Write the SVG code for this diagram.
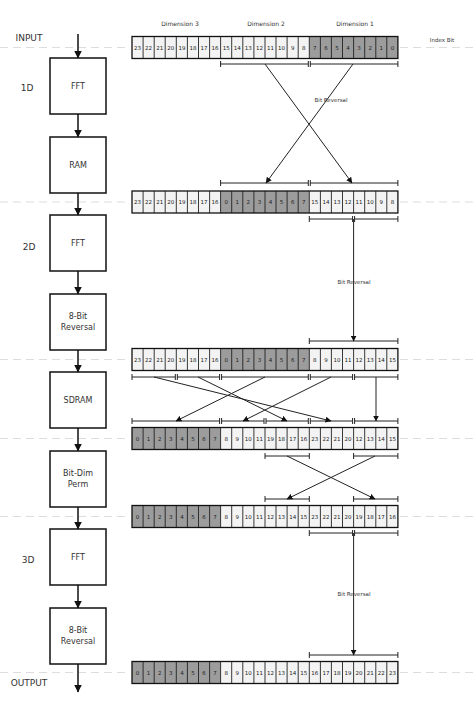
<svg xmlns="http://www.w3.org/2000/svg" width="474" height="711" viewBox="0 0 474 711">
<style>
.bg{fill:#fff}
.guide{stroke:#ddd;stroke-width:1;stroke-dasharray:8 5;fill:none}
.box{fill:#fff;stroke:#111;stroke-width:1.5}
.bl{font-family:"DejaVu Sans",sans-serif;font-size:8px;fill:#333;text-anchor:middle}
.side{font-family:"DejaVu Sans",sans-serif;font-size:9px;fill:#333;text-anchor:middle}
.dim{font-family:"DejaVu Sans",sans-serif;font-size:6px;fill:#333;text-anchor:middle}
.br{font-family:"DejaVu Sans",sans-serif;font-size:5.5px;fill:#333;text-anchor:middle}
.c{font-family:"DejaVu Sans",sans-serif;font-size:5.5px;fill:#222;text-anchor:middle}
.w{fill:#f3f3f3}
.g{fill:#9c9c9c}
.grid{fill:none;stroke:#222;stroke-width:0.9}
.frame{fill:none;stroke:#111;stroke-width:1.3}
.ln{stroke:#222;stroke-width:1;fill:none}
.arr{stroke:#111;stroke-width:1.5;fill:none}
</style>
<defs>
<marker id="ah" markerWidth="6" markerHeight="6" refX="5.5" refY="3" orient="auto" markerUnits="userSpaceOnUse"><path d="M0,0 L6,3 L0,6z" fill="#111"/></marker>
<marker id="ahb" markerWidth="8" markerHeight="8" refX="7.5" refY="4" orient="auto" markerUnits="userSpaceOnUse"><path d="M0,0 L8,4 L0,8z" fill="#111"/></marker>
<path id="grid" d="M143.1 0v22M154.2 0v22M165.2 0v22M176.3 0v22M187.4 0v22M198.5 0v22M209.6 0v22M220.6 0v22M231.7 0v22M242.8 0v22M253.9 0v22M265 0v22M276 0v22M287.1 0v22M298.2 0v22M309.3 0v22M320.4 0v22M331.4 0v22M342.5 0v22M353.6 0v22M364.7 0v22M375.8 0v22M386.8 0v22"/>
</defs>
<rect class="bg" x="0" y="0" width="474" height="711"/>

<g id="guides">
<path class="guide" d="M0 47.5H130M400 47.5H474M0 202H130M400 202H474M0 359.5H130M400 359.5H474M0 438.5H130M400 438.5H474M0 516.5H130M400 516.5H474M0 672.5H130M400 672.5H474"/>
</g>

<!-- left pipeline -->
<g id="input-label"><text class="side" x="29" y="41">INPUT</text></g>
<g id="label-1d"><text class="side" x="27" y="91">1D</text></g>
<g id="label-2d"><text class="side" x="29" y="250">2D</text></g>
<g id="label-3d"><text class="side" x="28" y="563">3D</text></g>
<g id="output-label"><text class="side" x="29" y="686">OUTPUT</text></g>

<g id="box-fft1"><rect class="box" x="50" y="58" width="56" height="56"/><text class="bl" x="78" y="89">FFT</text></g>
<g id="box-ram"><rect class="box" x="50" y="137" width="56" height="56"/><text class="bl" x="78" y="168">RAM</text></g>
<g id="box-fft2"><rect class="box" x="50" y="215" width="56" height="56"/><text class="bl" x="78" y="246">FFT</text></g>
<g id="box-rev1"><rect class="box" x="50" y="294" width="56" height="56"/><text class="bl" x="78" y="319">8-Bit</text><text class="bl" x="78" y="330">Reversal</text></g>
<g id="box-sdram"><rect class="box" x="50" y="372" width="56" height="56"/><text class="bl" x="78" y="403">SDRAM</text></g>
<g id="box-perm"><rect class="box" x="50" y="451" width="56" height="56"/><text class="bl" x="78" y="476">Bit-Dim</text><text class="bl" x="78" y="487">Perm</text></g>
<g id="box-fft3"><rect class="box" x="50" y="529" width="56" height="56"/><text class="bl" x="78" y="560">FFT</text></g>
<g id="box-rev2"><rect class="box" x="50" y="608" width="56" height="56"/><text class="bl" x="78" y="633">8-Bit</text><text class="bl" x="78" y="644">Reversal</text></g>

<g id="pipeline-connectors">
<path class="arr" marker-end="url(#ahb)" d="M78 34V58"/>
<path class="arr" marker-end="url(#ahb)" d="M78 114V137"/>
<path class="arr" marker-end="url(#ahb)" d="M78 193V215"/>
<path class="arr" marker-end="url(#ahb)" d="M78 271V294"/>
<path class="arr" marker-end="url(#ahb)" d="M78 350V372"/>
<path class="arr" marker-end="url(#ahb)" d="M78 428V451"/>
<path class="arr" marker-end="url(#ahb)" d="M78 507V529"/>
<path class="arr" marker-end="url(#ahb)" d="M78 585V608"/>
<path class="arr" marker-end="url(#ahb)" d="M78 664V692"/>
</g>

<!-- headers -->
<g id="headers">
<text class="dim" x="180" y="26">Dimension 3</text>
<text class="dim" x="266" y="26">Dimension 2</text>
<text class="dim" x="355" y="26">Dimension 1</text>
<text class="br" x="442" y="42">Index Bit</text>
</g>

<!-- row 1 -->
<g id="row1" transform="translate(0,36.5)">
<rect class="w" x="132" y="0" width="265.9" height="22"/><rect class="g" x="309.3" y="0" width="88.6" height="22"/>
<use href="#grid" class="grid"/><rect class="frame" x="132" y="0" width="265.9" height="22"/>
<text class="c" x="137.5" y="13">23</text><text class="c" x="148.6" y="13">22</text><text class="c" x="159.7" y="13">21</text><text class="c" x="170.8" y="13">20</text><text class="c" x="181.9" y="13">19</text><text class="c" x="193" y="13">18</text><text class="c" x="204" y="13">17</text><text class="c" x="215.1" y="13">16</text>
<text class="c" x="226.2" y="13">15</text><text class="c" x="237.3" y="13">14</text><text class="c" x="248.3" y="13">13</text><text class="c" x="259.4" y="13">12</text><text class="c" x="270.5" y="13">11</text><text class="c" x="281.6" y="13">10</text><text class="c" x="292.7" y="13">9</text><text class="c" x="303.7" y="13">8</text>
<text class="c" x="314.8" y="13">7</text><text class="c" x="325.9" y="13">6</text><text class="c" x="337" y="13">5</text><text class="c" x="348.1" y="13">4</text><text class="c" x="359.1" y="13">3</text><text class="c" x="370.2" y="13">2</text><text class="c" x="381.3" y="13">1</text><text class="c" x="392.4" y="13">0</text>
</g>

<!-- row 2 -->
<g id="row2" transform="translate(0,191)">
<rect class="w" x="132" y="0" width="265.9" height="22"/><rect class="g" x="220.6" y="0" width="88.7" height="22"/>
<use href="#grid" class="grid"/><rect class="frame" x="132" y="0" width="265.9" height="22"/>
<text class="c" x="137.5" y="13">23</text><text class="c" x="148.6" y="13">22</text><text class="c" x="159.7" y="13">21</text><text class="c" x="170.8" y="13">20</text><text class="c" x="181.9" y="13">19</text><text class="c" x="193" y="13">18</text><text class="c" x="204" y="13">17</text><text class="c" x="215.1" y="13">16</text>
<text class="c" x="226.2" y="13">0</text><text class="c" x="237.3" y="13">1</text><text class="c" x="248.3" y="13">2</text><text class="c" x="259.4" y="13">3</text><text class="c" x="270.5" y="13">4</text><text class="c" x="281.6" y="13">5</text><text class="c" x="292.7" y="13">6</text><text class="c" x="303.7" y="13">7</text>
<text class="c" x="314.8" y="13">15</text><text class="c" x="325.9" y="13">14</text><text class="c" x="337" y="13">13</text><text class="c" x="348.1" y="13">12</text><text class="c" x="359.1" y="13">11</text><text class="c" x="370.2" y="13">10</text><text class="c" x="381.3" y="13">9</text><text class="c" x="392.4" y="13">8</text>
</g>

<!-- row 3 -->
<g id="row3" transform="translate(0,348.5)">
<rect class="w" x="132" y="0" width="265.9" height="22"/><rect class="g" x="220.6" y="0" width="88.7" height="22"/>
<use href="#grid" class="grid"/><rect class="frame" x="132" y="0" width="265.9" height="22"/>
<text class="c" x="137.5" y="13">23</text><text class="c" x="148.6" y="13">22</text><text class="c" x="159.7" y="13">21</text><text class="c" x="170.8" y="13">20</text><text class="c" x="181.9" y="13">19</text><text class="c" x="193" y="13">18</text><text class="c" x="204" y="13">17</text><text class="c" x="215.1" y="13">16</text>
<text class="c" x="226.2" y="13">0</text><text class="c" x="237.3" y="13">1</text><text class="c" x="248.3" y="13">2</text><text class="c" x="259.4" y="13">3</text><text class="c" x="270.5" y="13">4</text><text class="c" x="281.6" y="13">5</text><text class="c" x="292.7" y="13">6</text><text class="c" x="303.7" y="13">7</text>
<text class="c" x="314.8" y="13">8</text><text class="c" x="325.9" y="13">9</text><text class="c" x="337" y="13">10</text><text class="c" x="348.1" y="13">11</text><text class="c" x="359.1" y="13">12</text><text class="c" x="370.2" y="13">13</text><text class="c" x="381.3" y="13">14</text><text class="c" x="392.4" y="13">15</text>
</g>

<!-- row 4 -->
<g id="row4" transform="translate(0,427.5)">
<rect class="w" x="132" y="0" width="265.9" height="22"/><rect class="g" x="132" y="0" width="88.6" height="22"/>
<use href="#grid" class="grid"/><rect class="frame" x="132" y="0" width="265.9" height="22"/>
<text class="c" x="137.5" y="13">0</text><text class="c" x="148.6" y="13">1</text><text class="c" x="159.7" y="13">2</text><text class="c" x="170.8" y="13">3</text><text class="c" x="181.9" y="13">4</text><text class="c" x="193" y="13">5</text><text class="c" x="204" y="13">6</text><text class="c" x="215.1" y="13">7</text>
<text class="c" x="226.2" y="13">8</text><text class="c" x="237.3" y="13">9</text><text class="c" x="248.3" y="13">10</text><text class="c" x="259.4" y="13">11</text><text class="c" x="270.5" y="13">19</text><text class="c" x="281.6" y="13">18</text><text class="c" x="292.7" y="13">17</text><text class="c" x="303.7" y="13">16</text>
<text class="c" x="314.8" y="13">23</text><text class="c" x="325.9" y="13">22</text><text class="c" x="337" y="13">21</text><text class="c" x="348.1" y="13">20</text><text class="c" x="359.1" y="13">12</text><text class="c" x="370.2" y="13">13</text><text class="c" x="381.3" y="13">14</text><text class="c" x="392.4" y="13">15</text>
</g>

<!-- row 5 -->
<g id="row5" transform="translate(0,505.5)">
<rect class="w" x="132" y="0" width="265.9" height="22"/><rect class="g" x="132" y="0" width="88.6" height="22"/>
<use href="#grid" class="grid"/><rect class="frame" x="132" y="0" width="265.9" height="22"/>
<text class="c" x="137.5" y="13">0</text><text class="c" x="148.6" y="13">1</text><text class="c" x="159.7" y="13">2</text><text class="c" x="170.8" y="13">3</text><text class="c" x="181.9" y="13">4</text><text class="c" x="193" y="13">5</text><text class="c" x="204" y="13">6</text><text class="c" x="215.1" y="13">7</text>
<text class="c" x="226.2" y="13">8</text><text class="c" x="237.3" y="13">9</text><text class="c" x="248.3" y="13">10</text><text class="c" x="259.4" y="13">11</text><text class="c" x="270.5" y="13">12</text><text class="c" x="281.6" y="13">13</text><text class="c" x="292.7" y="13">14</text><text class="c" x="303.7" y="13">15</text>
<text class="c" x="314.8" y="13">23</text><text class="c" x="325.9" y="13">22</text><text class="c" x="337" y="13">21</text><text class="c" x="348.1" y="13">20</text><text class="c" x="359.1" y="13">19</text><text class="c" x="370.2" y="13">18</text><text class="c" x="381.3" y="13">17</text><text class="c" x="392.4" y="13">16</text>
</g>

<!-- row 6 -->
<g id="row6" transform="translate(0,661.5)">
<rect class="w" x="132" y="0" width="265.9" height="22"/><rect class="g" x="132" y="0" width="88.6" height="22"/>
<use href="#grid" class="grid"/><rect class="frame" x="132" y="0" width="265.9" height="22"/>
<text class="c" x="137.5" y="13">0</text><text class="c" x="148.6" y="13">1</text><text class="c" x="159.7" y="13">2</text><text class="c" x="170.8" y="13">3</text><text class="c" x="181.9" y="13">4</text><text class="c" x="193" y="13">5</text><text class="c" x="204" y="13">6</text><text class="c" x="215.1" y="13">7</text>
<text class="c" x="226.2" y="13">8</text><text class="c" x="237.3" y="13">9</text><text class="c" x="248.3" y="13">10</text><text class="c" x="259.4" y="13">11</text><text class="c" x="270.5" y="13">12</text><text class="c" x="281.6" y="13">13</text><text class="c" x="292.7" y="13">14</text><text class="c" x="303.7" y="13">15</text>
<text class="c" x="314.8" y="13">16</text><text class="c" x="325.9" y="13">17</text><text class="c" x="337" y="13">18</text><text class="c" x="348.1" y="13">19</text><text class="c" x="359.1" y="13">20</text><text class="c" x="370.2" y="13">21</text><text class="c" x="381.3" y="13">22</text><text class="c" x="392.4" y="13">23</text>
</g>

<!-- connectors -->
<g id="connectors">
<!-- brackets -->
<path class="ln" d="M220.6 64H308.3M220.6 61v6M308.3 61v6M310.3 64H397.9M310.3 61v6M397.9 61v6"/>
<path class="ln" d="M220.6 183H308.3M220.6 180v6M308.3 180v6M310.3 183H397.9M310.3 180v6M397.9 180v6"/>
<path class="ln" d="M309.3 219H352.6M309.3 216v6M352.6 216v6M354.6 219H397.9M354.6 216v6M397.9 216v6"/>
<path class="ln" d="M309.3 341H397.9M309.3 338v6M397.9 338v6"/>
<path class="ln" d="M132 377H175.3M132 374v6M175.3 374v6M177.3 377H219.6M177.3 374v6M219.6 374v6M221.6 377H308.3M221.6 374v6M308.3 374v6M310.3 377H352.6M310.3 374v6M352.6 374v6M354.6 377H397.9M354.6 374v6M397.9 374v6"/>
<path class="ln" d="M132 421H219.6M132 418v6M219.6 418v6M221.6 421H264M221.6 418v6M264 418v6M266 421H308.3M266 418v6M308.3 418v6M310.3 421H352.6M310.3 418v6M352.6 418v6M354.6 421H397.9M354.6 418v6M397.9 418v6"/>
<path class="ln" d="M265 456H309.3M265 453v6M309.3 453v6M353.6 456H397.9M353.6 453v6M397.9 453v6"/>
<path class="ln" d="M265 499H309.3M265 496v6M309.3 496v6M353.6 499H397.9M353.6 496v6M397.9 496v6"/>
<path class="ln" d="M309.3 533H352.6M309.3 530v6M352.6 530v6M354.6 533H397.9M354.6 530v6M397.9 530v6"/>
<path class="ln" d="M309.3 655H397.9M309.3 652v6M397.9 652v6"/>
<!-- arrows -->
<path class="ln" marker-end="url(#ah)" d="M265 64L352 183"/>
<path class="ln" marker-end="url(#ah)" d="M353 64L266 183"/>
<path class="ln" marker-end="url(#ah)" d="M353.6 219V341"/>
<path class="ln" marker-end="url(#ah)" d="M154 377L331 421"/>
<path class="ln" marker-end="url(#ah)" d="M198 377L287 421"/>
<path class="ln" marker-end="url(#ah)" d="M265 377L176 421"/>
<path class="ln" marker-end="url(#ah)" d="M331 377L243 421"/>
<path class="ln" marker-end="url(#ah)" d="M376 377V421"/>
<path class="ln" marker-end="url(#ah)" d="M287 456L375 499"/>
<path class="ln" marker-end="url(#ah)" d="M375 456L287 499"/>
<path class="ln" marker-end="url(#ah)" d="M353.6 533V655"/>
</g>
<g id="bit-reversal-labels">
<text class="br" x="331" y="102">Bit Reversal</text>
<text class="br" x="354" y="284">Bit Reversal</text>
<text class="br" x="354" y="596">Bit Reversal</text>
</g>
</svg>
